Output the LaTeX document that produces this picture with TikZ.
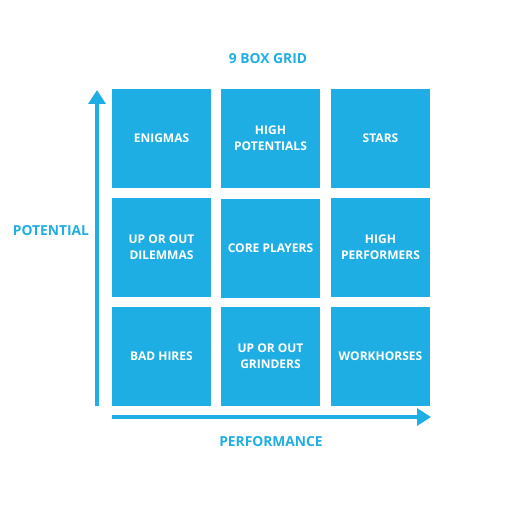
\documentclass[tikz,border=0pt]{standalone}
\usepackage{fontspec}
\setmainfont{Open Sans}
\usetikzlibrary{arrows.meta}
\definecolor{gridblue}{RGB}{31,174,227}

\begin{document}
\begin{tikzpicture}[x=1pt,y=-1pt]
    \tikzset{every node/.style={font=\fontsize{12}{16}\selectfont\bfseries}}
    \tikzset{gridbox/.style={fill=gridblue,text=white,minimum size=99pt,inner sep=0pt,align=center,text depth=0pt}}
    \tikzset{axislabel/.style={text=gridblue,font=\fontsize{13.8}{16}\selectfont\bfseries}}
    \tikzset{axisarrow/.style={draw=gridblue,line width=4pt,-{Triangle[length=14pt,width=17pt]}}}
    \useasboundingbox (0,0) rectangle (510,510);
    \node[axislabel] (title) at (268,59) {9 BOX GRID};
\node[gridbox] (enigmas) at (161.5,138.5) {ENIGMAS};
\node[gridbox] (highpot) at (270.5,138.5) {HIGH\\POTENTIALS};
\node[gridbox] (stars) at (380.5,138.5) {STARS};
\node[gridbox] (dilemmas) at (161.5,247.5) {UP OR OUT\\DILEMMAS};
\node[gridbox] (core) at (270.5,248.5) {CORE PLAYERS};
\node[gridbox] (highperf) at (380.5,247.5) {HIGH\\PERFORMERS};
\node[gridbox] (badhires) at (161.5,356.5) {BAD HIRES};
\node[gridbox] (grinders) at (270.5,356.5) {UP OR OUT\\GRINDERS};
\node[gridbox] (workhorses) at (380.5,356.5) {WORKHORSES};
\node[axislabel] (potential) at (51,231) {POTENTIAL};
\node[axislabel] (performance) at (271,442) {PERFORMANCE};
\coordinate (origin_v) at (97,406);
\coordinate (top_v) at (97,90);
\coordinate (origin_h) at (112,417);
\coordinate (end_h) at (431,417);
\draw[axisarrow] (origin_v) -- (top_v);
\draw[axisarrow] (origin_h) -- (end_h);

\end{tikzpicture}
\end{document}
